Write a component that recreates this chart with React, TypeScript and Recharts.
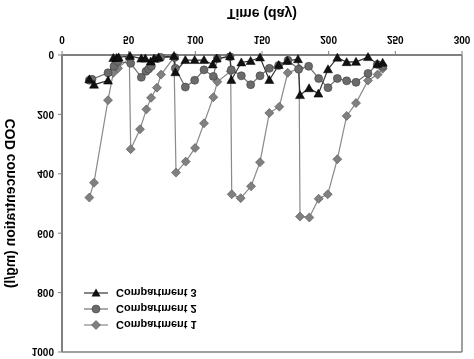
import React from "react";
import { LineChart, Line, XAxis, YAxis, ReferenceLine, Legend } from "recharts";

// the reference picture is printed upside down, so the chart is drawn normally and flipped
const xTicks = [0, 50, 100, 150, 200, 250, 300];
const yTicks = [0, 200, 400, 600, 800, 1000];

const compartment1 = [
  [20.5, 480], [24, 430], [34.5, 152], [38.5, 60], [42, 45], [50.5, 10], [51.5, 317],
  [58.5, 250], [63.3, 183], [66.8, 144], [71.2, 110], [74.3, 66], [84, 8], [85.5, 396],
  [92.8, 359], [99.8, 313], [106.5, 230], [113.5, 142], [116.5, 90], [126.5, 55], [127.3, 469],
  [134, 482], [141.8, 442], [148.5, 361], [155.5, 195], [163, 174], [169.3, 60], [177.8, 45],
  [178.5, 544], [185.5, 547], [192.5, 484], [199.3, 469], [206.5, 351], [213.5, 205], [220.5, 162],
  [229.5, 86], [236.7, 66], [240.5, 46],
];

const compartment2 = [
  [20.5, 85], [22.5, 82], [34.5, 60], [39, 38], [42, 22], [51.5, 28], [59.5, 75], [63, 55],
  [65, 47], [67, 38], [72, 12], [74, 8], [84.5, 8], [85, 45], [92.5, 108], [99.5, 85],
  [106.5, 50], [113.5, 72], [116.5, 12], [126, 6], [127, 50], [134.5, 70], [141.5, 100],
  [148.5, 70], [155.5, 45], [162.5, 35], [169.5, 18], [177.5, 48], [185, 38], [192.5, 79],
  [199.5, 110], [206.5, 79], [213.5, 87], [220.5, 92], [229.5, 62], [236.5, 32], [240.5, 38],
];

const compartment3 = [
  [20.5, 82], [24, 100], [34.5, 86], [38.5, 10], [41, 10], [42.5, 8], [51, 3], [59.5, 12],
  [62.5, 12], [66.5, 22], [69, 12], [72.5, 8], [84, 3], [85, 58], [92.5, 17], [99.5, 17],
  [106.5, 17], [113, 32], [116, 12], [126, 4], [127, 84], [134.5, 25], [141.5, 20], [148.5, 8],
  [155.5, 84], [162.5, 34], [169, 20], [177, 14], [178.5, 135], [185.3, 112], [192.3, 130],
  [199.5, 48], [206.5, 9], [213.5, 24], [220.5, 23], [229.5, 7], [236.5, 30], [240.5, 26],
];

const toRows = (pts: number[][]) => pts.map(([day, cod]) => ({ day, cod }));

const FONT = '"Liberation Sans", Arial, sans-serif';

function diamond(cx: number, cy: number, s = 4.5) {
  return `${cx},${cy - s} ${cx + s},${cy} ${cx},${cy + s} ${cx - s},${cy}`;
}
// drawn pointing down: it points up once the chart is flipped
function triangle(cx: number, cy: number, s = 4.5) {
  return `${cx - s},${cy - 3.5} ${cx + s},${cy - 3.5} ${cx},${cy + s}`;
}

const DiamondDot = (p: any) =>
  p.cx == null ? null : <polygon key={`d${p.index}`} points={diamond(p.cx, p.cy)} fill="#808080" stroke="#505050" strokeWidth={0.6} />;
const CircleDot = (p: any) =>
  p.cx == null ? null : <circle key={`c${p.index}`} cx={p.cx} cy={p.cy} r={4} fill="#6b6b6b" stroke="#404040" strokeWidth={0.6} />;
const TriangleDot = (p: any) =>
  p.cx == null ? null : <polygon key={`t${p.index}`} points={triangle(p.cx, p.cy)} fill="#111" stroke="#000" strokeWidth={0.5} />;

const legendItems = [
  { name: "Compartment 1", line: "#8a8a8a", shape: "diamond" },
  { name: "Compartment 2", line: "#707070", shape: "circle" },
  { name: "Compartment 3", line: "#333", shape: "triangle" },
];

function LegendBox() {
  return (
    <div style={{ fontFamily: FONT, fontSize: 11, fontWeight: "bold", color: "#000" }}>
      {legendItems.map(it => (
        <div key={it.name} style={{ height: 16, display: "flex", alignItems: "center" }}>
          <svg width={24} height={12} style={{ display: "block" }}>
            <line x1={0} y1={6} x2={24} y2={6} stroke={it.line} strokeWidth={1.2} />
            {it.shape === "diamond" && <polygon points={diamond(12, 6)} fill="#808080" stroke="#505050" strokeWidth={0.6} />}
            {it.shape === "circle" && <circle cx={12} cy={6} r={4} fill="#6b6b6b" stroke="#404040" strokeWidth={0.6} />}
            {it.shape === "triangle" && <polygon points={triangle(12, 6)} fill="#111" />}
          </svg>
          <span style={{ marginLeft: 8, whiteSpace: "nowrap" }}>{it.name}</span>
        </div>
      ))}
    </div>
  );
}

export default function App() {
  const tick = { fontSize: 10, fontWeight: "bold", fill: "#000", fontFamily: FONT };
  return (
    <div style={{ position: "fixed", left: 0, top: 0, width: 474, height: 359, background: "#fff", transform: "scaleY(-1)" }}>
      <LineChart width={474} height={359} margin={{ top: 7, right: 12, bottom: 0, left: 0 }}>
        <XAxis
          type="number"
          dataKey="day"
          domain={[0, 300]}
          ticks={xTicks}
          height={55}
          tick={tick}
          tickSize={4}
          tickMargin={8}
          axisLine={{ stroke: "#808080", strokeWidth: 2 }}
          tickLine={{ stroke: "#808080" }}
          label={{ value: "Time (day)", position: "insideBottom", offset: 9, style: { fontSize: 14, fontWeight: "bold", fill: "#000", fontFamily: FONT } }}
        />
        <YAxis
          type="number"
          domain={[0, 1000]}
          ticks={yTicks}
          width={62}
          tick={tick}
          tickSize={4}
          tickMargin={4}
          axisLine={{ stroke: "#808080", strokeWidth: 2 }}
          tickLine={{ stroke: "#808080" }}
          label={{ value: "COD concentration (mg/l)", angle: -90, position: "insideLeft", offset: 10, style: { textAnchor: "middle", fontSize: 14, fontWeight: "bold", fill: "#000", fontFamily: FONT } }}
        />
        <ReferenceLine x={300} stroke="#808080" strokeWidth={1.5} />
        <ReferenceLine y={1000} stroke="#808080" strokeWidth={1.5} />
        <Legend
          layout="vertical"
          align="center"
          verticalAlign="middle"
          wrapperStyle={{ left: 84, top: 26, width: 150 }}
          content={() => <LegendBox />}
        />
        <Line data={toRows(compartment1)} dataKey="cod" name="Compartment 1" stroke="#8a8a8a" strokeWidth={1.2} dot={DiamondDot} activeDot={false} isAnimationActive={false} />
        <Line data={toRows(compartment2)} dataKey="cod" name="Compartment 2" stroke="#707070" strokeWidth={1.2} dot={CircleDot} activeDot={false} isAnimationActive={false} />
        <Line data={toRows(compartment3)} dataKey="cod" name="Compartment 3" stroke="#333" strokeWidth={1.2} dot={TriangleDot} activeDot={false} isAnimationActive={false} />
      </LineChart>
    </div>
  );
}
